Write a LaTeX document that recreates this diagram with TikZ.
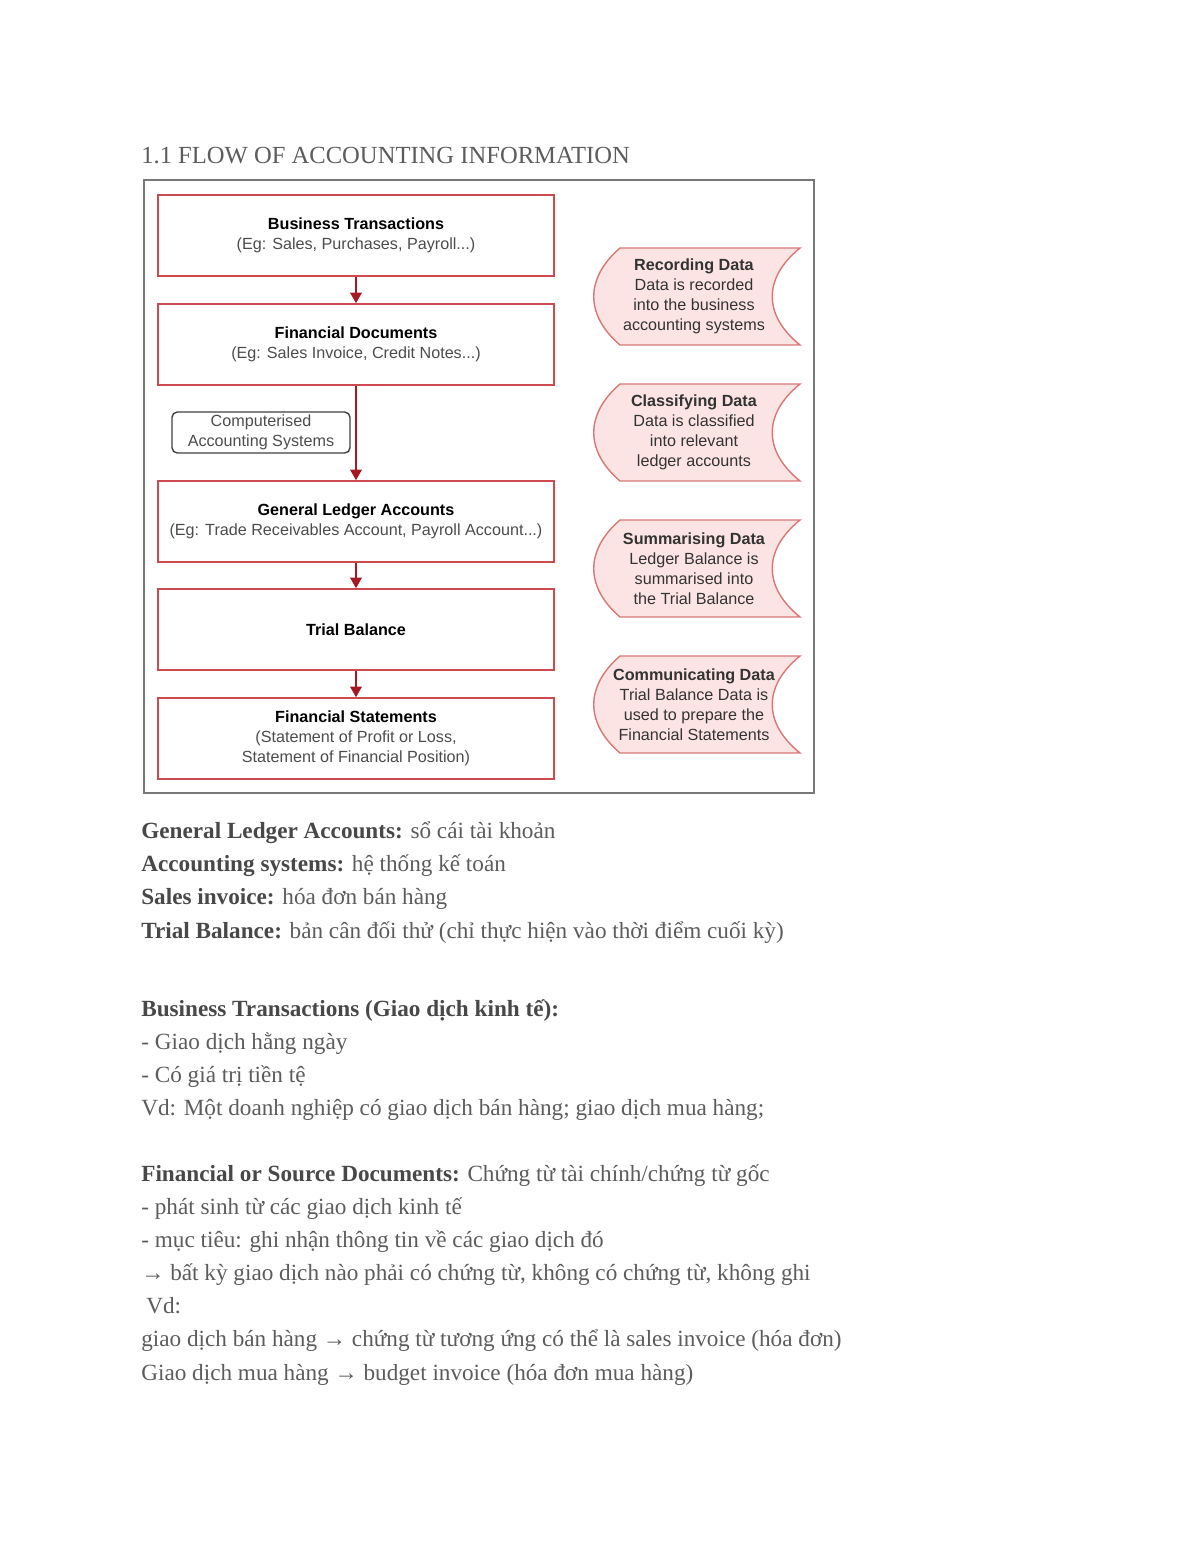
\documentclass[tikz,border=0pt]{standalone}
\usepackage{fontspec}
\setmainfont{Liberation Serif}
\newfontfamily\diagfont{Liberation Sans}
\usepackage{xcolor}
\usetikzlibrary{positioning,calc,arrows.meta}

\definecolor{boxred}{RGB}{205,75,80}
\definecolor{arrowred}{RGB}{165,25,35}
\definecolor{wavefill}{RGB}{253,228,228}
\definecolor{waveline}{RGB}{214,120,120}
\definecolor{framegray}{RGB}{120,120,120}
\definecolor{labelgray}{RGB}{72,72,72}
\definecolor{textgray}{RGB}{92,92,92}

\begin{document}
\begin{tikzpicture}[x=0.02cm, y=-0.02cm,
    flowbox/.style={draw=boxred, line width=0.9pt, minimum width=7.92cm, minimum height=1.62cm,
      inner sep=0pt, align=center, font=\diagfont\fontsize{9.2}{11.3}\selectfont},
    sidebox/.style={draw=black!75, line width=0.8pt, rounded corners=3pt, minimum width=3.56cm,
      minimum height=0.82cm, inner sep=0pt, align=center, text=black!70,
      font=\diagfont\fontsize{9.2}{11.3}\selectfont},
    flow/.style={arrowred, line width=1.1pt, -{Triangle[width=6.5pt,length=6pt]}},
    wave/.style={draw=waveline, fill=wavefill, line width=0.8pt},
    wavetext/.style={align=center, text=black!80, font=\diagfont\fontsize{9.2}{11.3}\selectfont},
    line/.style={anchor=base west, inner sep=0pt, text=textgray, font=\fontsize{13.2}{15}\selectfont},
    lbl/.style={text=labelgray, font=\bfseries}]
  \useasboundingbox (0,0) rectangle (1200,1553);

  % title and frame
  \node[line, font=\fontsize{14}{16}\selectfont] (title) at (141,163) {1.1 FLOW OF ACCOUNTING INFORMATION};
  \draw[framegray, line width=1.4pt] (144,180) rectangle (814,793);

  % flow of boxes
  \node[flowbox] (trans) at (356,235.5) {\textbf{Business Transactions}\\ \textcolor{black!70}{(Eg: Sales, Purchases, Payroll...)}};
  \node[flowbox] (docs) at (356,344.5) {\textbf{Financial Documents}\\ \textcolor{black!70}{(Eg: Sales Invoice, Credit Notes...)}};
  \node[sidebox] (cas) at (261,432.5) {Computerised\\Accounting Systems};
  \node[flowbox] (ledger) at (356,521.5) {\textbf{General Ledger Accounts}\\ \textcolor{black!70}{(Eg: Trade Receivables Account, Payroll Account...)}};
  \node[flowbox] (trial) at (356,629.5) {\textbf{Trial Balance}};
  \node[flowbox] (stmts) at (356,738.5) {\textbf{Financial Statements}\\ \textcolor{black!70}{(Statement of Profit or Loss,}\\ \textcolor{black!70}{Statement of Financial Position)}};

  \draw[flow] (trans) -- (docs);
  \draw[flow] (docs) -- (ledger);
  \draw[flow] (ledger) -- (trial);
  \draw[flow] (trial) -- (stmts);

  % stages on the right
  \foreach \y/\n/\ttl/\txt in {
      248/rec/{Recording Data}/{Data is recorded\\into the business\\accounting systems},
      384/cls/{Classifying Data}/{Data is classified\\into relevant\\ledger accounts},
      520/sum/{Summarising Data}/{Ledger Balance is\\summarised into\\the Trial Balance},
      656/com/{Communicating Data}/{Trial Balance Data is\\used to prepare the\\Financial Statements}} {
    \draw[wave] (620,\y) -- (800,\y) .. controls (763,\y+30) and (763,\y+67) .. (800,\y+97)
      -- (620,\y+97) .. controls (585,\y+67) and (585,\y+30) .. cycle;
    \node[wavetext] (\n) at (694,\y+48.5) {\textbf{\ttl}\\ \txt};
  }

  % glossary
  \node[line] (g1) at (141,838) {\textcolor{labelgray}{\textbf{General Ledger Accounts:}} sổ cái tài khoản};
  \node[line] (g2) at (141,871) {\textcolor{labelgray}{\textbf{Accounting systems:}} hệ thống kế toán};
  \node[line] (g3) at (141,904) {\textcolor{labelgray}{\textbf{Sales invoice:}} hóa đơn bán hàng};
  \node[line] (g4) at (141,938) {\textcolor{labelgray}{\textbf{Trial Balance:}} bản cân đối thử (chỉ thực hiện vào thời điểm cuối kỳ)};

  % business transactions
  \node[line] (b1) at (141,1016) {\textcolor{labelgray}{\textbf{Business Transactions (Giao dịch kinh tế):}}};
  \node[line] (b2) at (141,1049) {- Giao dịch hằng ngày};
  \node[line] (b3) at (141,1082) {- Có giá trị tiền tệ};
  \node[line] (b4) at (141,1115) {Vd: Một doanh nghiệp có giao dịch bán hàng; giao dịch mua hàng;};

  % source documents
  \node[line] (s1) at (141,1181) {\textcolor{labelgray}{\textbf{Financial or Source Documents:}} Chứng từ tài chính/chứng từ gốc};
  \node[line] (s2) at (141,1214) {- phát sinh từ các giao dịch kinh tế};
  \node[line] (s3) at (141,1247) {- mục tiêu: ghi nhận thông tin về các giao dịch đó};
  \node[line] (s4) at (141,1280) {→ bất kỳ giao dịch nào phải có chứng từ, không có chứng từ, không ghi};
  \node[line] (s5) at (146,1313) {Vd:};
  \node[line] (s6) at (141,1346) {giao dịch bán hàng → chứng từ tương ứng có thể là sales invoice (hóa đơn)};
  \node[line] (s7) at (141,1380) {Giao dịch mua hàng → budget invoice (hóa đơn mua hàng)};
\end{tikzpicture}
\end{document}
